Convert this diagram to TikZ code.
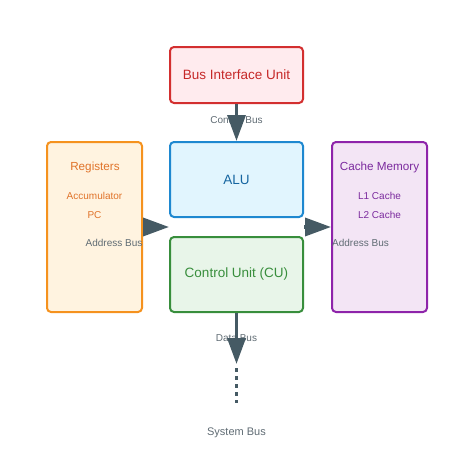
\documentclass[tikz,border=0pt]{standalone}
\usepackage{fontspec}
\setmainfont{Liberation Sans}
\usetikzlibrary{arrows.meta}

\definecolor{busline}{HTML}{455A64}
\definecolor{buslabel}{HTML}{5F6B73}
\definecolor{biufill}{HTML}{FFEBEE}
\definecolor{biuedge}{HTML}{D32F2F}
\definecolor{biutext}{HTML}{C62828}
\definecolor{alufill}{HTML}{E1F5FE}
\definecolor{aluedge}{HTML}{1E88D0}
\definecolor{alutext}{HTML}{1565A0}
\definecolor{cufill}{HTML}{E8F5E9}
\definecolor{cuedge}{HTML}{388E3C}
\definecolor{regfill}{HTML}{FFF3E0}
\definecolor{regedge}{HTML}{F5921E}
\definecolor{regtext}{HTML}{E0732A}
\definecolor{cachefill}{HTML}{F3E5F5}
\definecolor{cacheedge}{HTML}{8E24AA}
\definecolor{cachetext}{HTML}{7B2A9E}

\tikzset{
    unitbox/.style={draw,line width=2pt,rounded corners=4pt,inner sep=0pt},
    bigtext/.style={font=\fontsize{13.5}{16}\selectfont},
    midtext/.style={font=\fontsize{11.7}{14}\selectfont},
    smalltext/.style={font=\fontsize{10}{12}\selectfont},
    buslbl/.style={font=\fontsize{10}{12}\selectfont,text=buslabel},
    busarrow/.style={draw=busline,line width=3.5pt,-{Triangle[length=26pt,width=18pt]}}
}

\begin{document}
\begin{tikzpicture}[x=10pt,y=-10pt]
    \useasboundingbox (0,0) rectangle (47.4,47.4);
    % units
    \node[unitbox,fill=biufill,draw=biuedge,text=biutext,bigtext,minimum width=133pt,minimum height=56pt] (biu) at (23.65,7.5) {Bus Interface Unit};
    \node[unitbox,fill=alufill,draw=aluedge,text=alutext,bigtext,minimum width=133pt,minimum height=75pt] (alu) at (23.65,17.95) {ALU};
    \node[unitbox,fill=cufill,draw=cuedge,text=cuedge,bigtext,minimum width=133pt,minimum height=75pt] (cu) at (23.65,27.45) {Control Unit (CU)};
    \node[unitbox,fill=regfill,draw=regedge,minimum width=95pt,minimum height=170pt] (regs) at (9.45,22.7) {};
    \node[unitbox,fill=cachefill,draw=cacheedge,minimum width=95pt,minimum height=170pt] (cache) at (37.95,22.7) {};
    % box contents
    \node[midtext,text=regtext] (regtitle) at (9.5,16.7) {Registers};
    \node[smalltext,text=regtext] (acc) at (9.45,19.6) {Accumulator};
    \node[smalltext,text=regtext] (pc) at (9.45,21.5) {PC};
    \node[midtext,text=cachetext] (cachetitle) at (37.95,16.7) {Cache Memory};
    \node[smalltext,text=cachetext] (l1) at (37.95,19.6) {L1 Cache};
    \node[smalltext,text=cachetext] (l2) at (37.95,21.5) {L2 Cache};
    % bus labels
    \node[buslbl] (ctrlbus) at (23.65,12.0) {Control Bus};
    \node[buslbl] (addrl) at (11.4,24.3) {Address Bus};
    \node[buslbl] (addrr) at (36.05,24.3) {Address Bus};
    \node[buslbl] (databus) at (23.65,33.8) {Data Bus};
    \node[font=\fontsize{11}{13}\selectfont,text=buslabel] (sysbus) at (23.65,43.3) {System Bus};
    \coordinate (datatip) at (23.65,36.4);
    \coordinate (dataend) at (23.65,40.3);
    % buses
    \draw[busarrow] (biu.south) -- (alu.north);
    \draw[busarrow] (regs.east) -- (regs.east -| alu.west);
    \draw[busarrow] (cache.west -| alu.east) -- (cache.west);
    \draw[busarrow] (cu.south) -- (datatip);
    \draw[busline,line width=3pt,dash pattern=on 3.5pt off 4.5pt] ([yshift=-4pt]datatip) -- (dataend);
\end{tikzpicture}
\end{document}
